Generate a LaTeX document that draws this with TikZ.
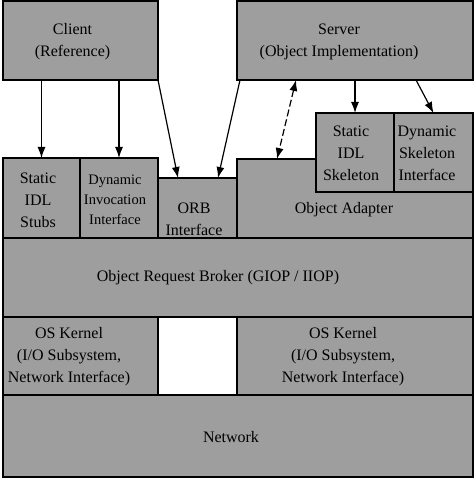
\documentclass[tikz,border=0pt]{standalone}
\usepackage{fontspec}
\setmainfont{Liberation Serif}
\usetikzlibrary{arrows.meta}
\definecolor{stip}{gray}{0.62}
\tikzset{
  box/.style={draw=black, line width=1.2pt, fill=stip, inner sep=0pt, outer sep=0pt},
  plainbox/.style={draw=black, line width=1.2pt, fill=white, inner sep=0pt, outer sep=0pt},
  lbl/.style={align=center, font=\fontsize{16}{22}\selectfont, inner sep=0pt},
  smalllbl/.style={align=center, font=\fontsize{14.5}{20}\selectfont, inner sep=0pt},
  arr/.style={-{Latex[length=11pt,width=8pt]}, line width=1.2pt},
  darr/.style={{Latex[length=11pt,width=8pt]}-{Latex[length=11pt,width=8pt]}, line width=1.2pt, dash pattern=on 7pt off 3pt},
}
\begin{document}
\begin{tikzpicture}[x=1pt,y=-1pt]
\fill[white] (0,0) rectangle (474,478);
\useasboundingbox (0,0) rectangle (474,478);

% boxes
\node[box, minimum width=155pt, minimum height=79pt] (client) at (80.5,40.5) {};
\node[box, minimum width=236pt, minimum height=79pt] (server) at (355,40.5) {};
\node[box, minimum width=77pt, minimum height=80pt] (stubs) at (41.5,198) {};
\node[box, minimum width=78pt, minimum height=80pt] (dii) at (119,198) {};
\node[box, minimum width=79pt, minimum height=60pt] (orbif) at (197.5,208) {};
\node[box, minimum width=236pt, minimum height=79pt] (oa) at (355,198.5) {};
\node[box, minimum width=78pt, minimum height=79pt] (sskel) at (355,152.5) {};
\node[box, minimum width=79pt, minimum height=79pt] (dskel) at (433.5,152.5) {};
\node[box, minimum width=470pt, minimum height=79pt] (orb) at (238,277.5) {};
\node[box, minimum width=155pt, minimum height=78pt] (osl) at (80.5,356) {};
\node[plainbox, minimum width=79pt, minimum height=78pt] (gap) at (197.5,356) {};
\node[box, minimum width=236pt, minimum height=78pt] (osr) at (355,356) {};
\node[box, minimum width=470pt, minimum height=82pt] (net) at (238,436) {};

% labels
\node[lbl] (t-client) at (72.5,42) {Client\\(Reference)};
\node[lbl] (t-server) at (339,42) {Server\\(Object Implementation)};
\node[lbl] (t-stubs) at (38,200) {Static\\IDL\\Stubs};
\node[smalllbl] (t-dii) at (115,200) {Dynamic\\Invocation\\Interface};
\node[lbl] (t-orbif) at (194,219) {ORB\\Interface};
\node[lbl] (t-oa) at (344,210) {Object Adapter};
\node[lbl] (t-sskel) at (351,153) {Static\\IDL\\Skeleton};
\node[lbl] (t-dskel) at (427,153) {Dynamic\\Skeleton\\Interface};
\node[lbl] (t-orb) at (218,278) {Object Request Broker (GIOP / IIOP)};
\node[lbl] (t-osl) at (69,357) {OS Kernel\\(I/O Subsystem,\\Network Interface)};
\node[lbl] (t-osr) at (343,357) {OS Kernel\\(I/O Subsystem,\\Network Interface)};
\node[lbl] (t-net) at (231,437) {Network};

% connectors
\draw[arr] (client.south -| stubs.north) -- (stubs.north);
\draw[arr] (client.south -| dii.north) -- (dii.north);
\draw[arr] (client.south east) -- ([xshift=-19.5pt]orbif.north);
\draw[arr] ([xshift=3pt]server.south west) -- ([xshift=20.5pt]orbif.north);
\draw[darr] ([xshift=59pt]server.south west) -- ([xshift=40pt]oa.north west);
\draw[arr] (server.south -| sskel.north) -- (sskel.north);
\draw[arr] ([xshift=61pt]server.south) -- (dskel.north);
\end{tikzpicture}
\end{document}
